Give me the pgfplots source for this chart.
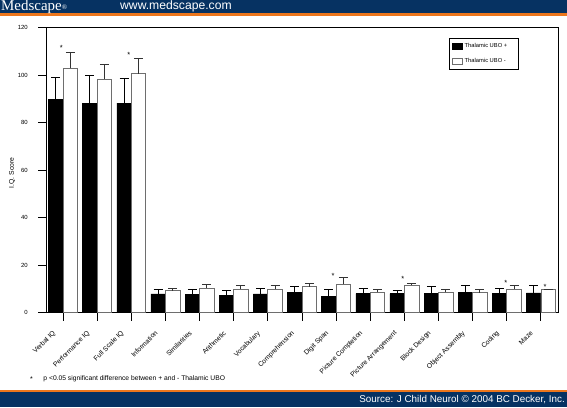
\documentclass[border=0pt]{standalone}
\usepackage{pgfplots}
\pgfplotsset{compat=1.18}
\usepackage{fontspec}
\setmainfont{Liberation Sans}
\newfontfamily\serifhead{Liberation Serif}
\definecolor{navy}{RGB}{6,50,98}
\definecolor{orng}{RGB}{236,118,28}
\definecolor{outl}{RGB}{110,110,110}

\pgfplotstableread{
x y e
0 89.9 9.3
1 88.2 11.8
2 88.2 10.5
3 7.9 1.7
4 7.8 1.9
5 7.3 2.0
6 7.9 2.2
7 8.6 2.4
8 6.9 2.8
9 8.0 2.0
10 8.0 1.5
11 8.0 3.1
12 8.5 3.1
13 8.0 2.0
14 8.3 3.0
}\pos
\pgfplotstableread{
x y e
0 102.9 6.7
1 98.3 6.3
2 100.6 6.3
3 9.2 0.9
4 10.4 1.3
5 9.9 1.5
6 9.9 1.7
7 10.9 1.5
8 12.0 3.0
9 8.6 1.1
10 11.6 0.8
11 8.6 1.3
12 8.5 1.4
13 10.0 1.3
14 9.7 0.0
}\negd

\begin{document}
\begin{tikzpicture}[x=1bp,y=1bp]
\useasboundingbox (0,0) rectangle (567,407);
\fill[white] (0,0) rectangle (567,407);
% header
\fill[navy] (0,393.5) rectangle (567,407);
\fill[orng] (0,390.7) rectangle (567,393.5);
\node[anchor=west, text=white, font=\serifhead\fontsize{15}{15}\selectfont, inner sep=0] at (1,400.2) {Medscape\raisebox{1bp}{\fontsize{7}{7}\selectfont\textregistered}};
\node[anchor=west, text=white, font=\fontsize{12.2}{13}\selectfont, inner sep=0] at (120,400.4) {www.medscape.com};
% footer
\fill[orng] (0,15) rectangle (567,17.5);
\fill[navy] (0,0) rectangle (567,15);
\node[anchor=east, text=white, font=\fontsize{9.9}{10}\selectfont, inner sep=0] at (565,7.6) {Source: J Child Neurol \textcopyright{} 2004 BC Decker, Inc.};
% footnote
\node[anchor=west, font=\fontsize{7}{7}\selectfont, inner sep=0] at (30,27.5) {*};
\node[anchor=west, font=\fontsize{6.75}{7}\selectfont, inner sep=0] at (43.3,28) {p <0.05 significant difference between + and - Thalamic UBO};

\begin{axis}[
  at={(46bp,94.3bp)}, anchor=south west,
  scale only axis, width=512bp, height=285bp,
  xmin=-0.5, xmax=14.5, ymin=0, ymax=120,
  ybar=0pt, bar width=14.5bp,
  axis line style={line width=0.9bp},
  xtick=data, xtick pos=left, ytick pos=left,
  tick align=outside, major tick length=8bp,
  tick style={black, line width=0.9bp},
  ytick={0,20,...,120},
  xticklabels={Verbal IQ,Performance IQ,Full Scale IQ,Information,Similarities,Arithmetic,Vocabulary,Comprehension,Digit Span,Picture Completion,Picture Arrangement,Block Design,Object Assembly,Coding,Maze},
  xticklabel style={rotate=45, anchor=north east, font=\fontsize{6.8}{7}\selectfont, inner sep=0, xshift=-14.2bp, yshift=1.2bp},
  yticklabel style={font=\fontsize{6}{7}\selectfont, inner sep=0, xshift=-10bp},
  /pgf/number format/assume math mode=true,
  ylabel={I.Q. Score},
  ylabel style={font=\fontsize{6.8}{7}\selectfont, at={(axis description cs:-0.066,0.49)}, anchor=center, inner sep=0},
  legend style={at={(rel axis cs:0.7877,0.9628)}, anchor=north west, draw=black, line width=0.6bp,
    font=\fontsize{5.8}{7}\selectfont, row sep=5bp, inner xsep=2.5bp, inner ysep=3bp},
  legend cell align=left,
  legend image code/.code={\draw[#1, line width=0.6bp] (0bp,-3bp) rectangle (10bp,3bp);},
  clip=false,
]
\addplot[fill=black, draw=black, line width=0.5bp,
  error bars/.cd, y dir=plus, y explicit,
  error bar style={black, line width=1bp},
  error mark options={rotate=90, black, line width=1bp, mark size=4.5bp}]
  table[x=x, y=y, y error=e] {\pos};
\addlegendentry{\makebox[49bp][l]{Thalamic UBO +}}
\addplot[fill=white, draw=outl, line width=0.8bp,
  error bars/.cd, y dir=plus, y explicit,
  error bar style={black!80, line width=1bp},
  error mark options={rotate=90, black!80, line width=1bp, mark size=4.5bp}]
  table[x=x, y=y, y error=e] {\negd};
\addlegendentry{\makebox[49bp][l]{Thalamic UBO -}}
\node[font=\fontsize{7.5}{7}\selectfont, inner sep=0] at (axis cs:-0.05,111.5) {*};
\node[font=\fontsize{7.5}{7}\selectfont, inner sep=0] at (axis cs:1.93,108.5) {*};
\node[font=\fontsize{7.5}{7}\selectfont, inner sep=0] at (axis cs:7.91,15.5) {*};
\node[font=\fontsize{7.5}{7}\selectfont, inner sep=0] at (axis cs:9.95,14.2) {*};
\node[font=\fontsize{7.5}{7}\selectfont, inner sep=0] at (axis cs:12.97,12.6) {*};
\node[font=\fontsize{7.5}{7}\selectfont, inner sep=0] at (axis cs:14.12,10.9) {*};
\end{axis}
\end{tikzpicture}
\end{document}
